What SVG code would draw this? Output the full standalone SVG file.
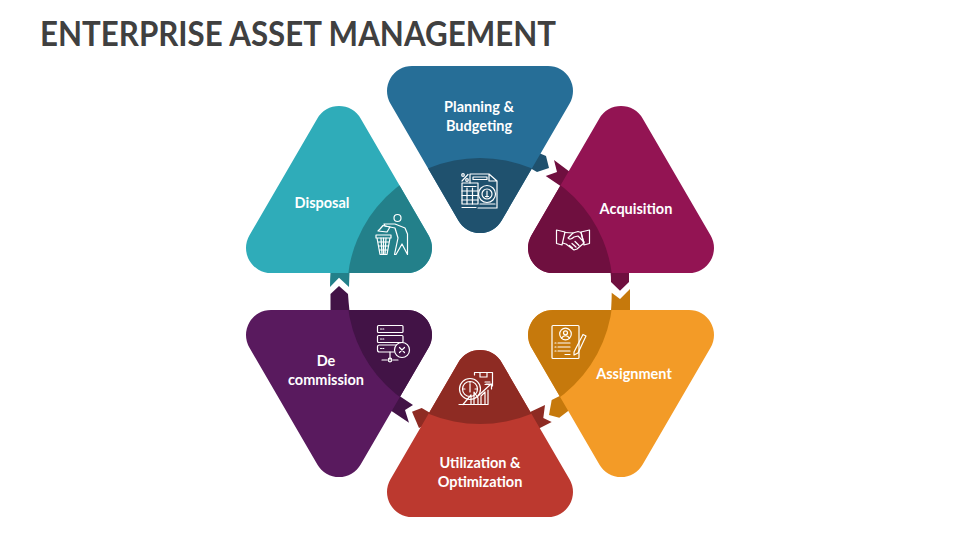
<svg xmlns="http://www.w3.org/2000/svg" width="960" height="540" viewBox="0 0 960 540">
<style>
.lbl{font-family:Lato,"Open Sans","Liberation Sans",sans-serif;font-size:14.500px;font-weight:700;fill:#fff;text-anchor:middle}
.title{font-family:Lato,"Open Sans","Liberation Sans",sans-serif;font-size:34px;font-weight:700;fill:#404040}
.ic{fill:none;stroke:#fff;stroke-width:1.2;stroke-linejoin:round;stroke-linecap:round}
</style>
<defs>
<path id="down" d="M25 0H161A25 25 0 0 1 182.650 37.500L114.650 154.500A25 25 0 0 1 71.350 154.500L3.350 37.500A25 25 0 0 1 25 0Z"/>
<path id="up" d="M25 166H161A25 25 0 0 0 182.650 128.500L114.650 11.500A25 25 0 0 0 71.350 11.500L3.350 128.500A25 25 0 0 0 25 166Z"/>
<clipPath id="ring"><circle cx="480" cy="291" r="133"/></clipPath>
</defs>
<rect width="960" height="540" fill="#fff"/>
<text class="title" x="40" y="46" textLength="516" lengthAdjust="spacingAndGlyphs">ENTERPRISE ASSET MANAGEMENT</text>

<g id="connectors">
<polygon fill="#1F516E" points="530,168 539,153 546,156 549,168 537,172"/>
<polygon fill="#6F0F3F" points="570,172 554,160 557,172 545.700,176 562,187"/>
<path fill="#6F0F3F" d="M610.500 272H629V282L620 290.700L611 282Q611 276 610.500 272Z"/>
<path fill="#C6790C" d="M611.700 292.700L620 299L630 289V311H611Q611.700 300 611.700 292.700Z"/>
<polygon fill="#C6790C" points="561.700,395 551.700,400 549,415 559.300,417.700 572,408"/>
<polygon fill="#8E2B23" points="528,413 545,405 543.300,418 551.700,422 538,429"/>
<polygon fill="#8E2B23" points="432,414 421.700,408 412,411.700 419,428 428,424"/>
<polygon fill="#421346" points="398,395 413,405 405,410 409,422.700 390,410"/>
<path fill="#421346" d="M330.500 311V294L339 286L348 294Q348.500 302 349.500 311Z"/>
<path fill="#23808A" d="M349.500 272H330.500Q330 279 330 287L339 277.700L349 287Z"/>
</g>

<g id="node-planning">
<use href="#down" x="387" y="66" fill="#266E97"/>
<g clip-path="url(#ring)"><use href="#down" x="387" y="66" fill="#1F516E"/></g>
<text class="lbl" x="479" y="112">Planning &amp;</text>
<text class="lbl" x="479" y="131">Budgeting</text>
<g class="ic">
<path d="M470 174H489L497 181V208H478M470 174V183M489 174V181H497"/>
<rect x="462" y="183" width="16" height="21"/>
<path d="M464 186.500H476M462 191H478M462 195.500H478M462 200H478M467 188V204M472.500 188V204"/>
<path d="M473 177H487V179.500H473Z"/>
<circle cx="487" cy="194" r="8.500"/><circle cx="487" cy="194" r="5"/>
<path d="M485.500 196.500H488.500M487 191V197"/>
<path d="M480 204H495M462 207.500H476"/>
<path d="M462 181L468 174.500"/><circle cx="463" cy="175" r="1.300"/><circle cx="467" cy="180" r="1.300"/>
</g>
</g>

<g id="node-acquisition">
<use href="#up" x="528" y="107" fill="#931453"/>
<g clip-path="url(#ring)"><use href="#up" x="528" y="107" fill="#6F0F3F"/></g>
<text class="lbl" x="636" y="214">Acquisition</text>
<g class="ic">
<path d="M556.500 230L565 232L562 245L556.500 243.500ZM589.500 230L581 232L584 245L589.500 243.500Z"/>
<path d="M565 232.500L573 233L578 231.500L581 232.500L584 243L577 249L574 250L566 244L562.500 243"/>
<path d="M573 233L568 238Q570 240.500 574 237L578 236L584 242"/>
<path d="M569.500 245.500L572.500 248M572 243.500L576 247M575 241.500L579 245.500"/>
</g>
</g>

<g id="node-assignment">
<use href="#down" x="528" y="310" fill="#F39B27"/>
<g clip-path="url(#ring)"><use href="#down" x="528" y="310" fill="#C6790C"/></g>
<text class="lbl" x="634" y="379">Assignment</text>
<g class="ic">
<rect x="552" y="325.500" width="27" height="33" rx="1"/>
<circle cx="565.500" cy="334" r="5.800"/><circle cx="565.500" cy="332.800" r="2"/>
<path d="M561.500 338Q565.500 333.500 569.500 338"/>
<path d="M558 343H570M558 347H570M558 351H570M565 354.500H570"/>
<path d="M555 343H556M555 347H556M555 351H556"/>
<path d="M574 352L583 334.500L586 336L578 353L574 355Z"/>
</g>
</g>

<g id="node-utilization">
<use href="#up" x="387" y="351" fill="#BC392F"/>
<g clip-path="url(#ring)"><use href="#up" x="387" y="351" fill="#8E2B23"/></g>
<text class="lbl" x="480" y="468">Utilization &amp;</text>
<text class="lbl" x="480" y="487">Optimization</text>
<g class="ic">
<path d="M474.500 375V372.500H492.500V386"/>
<path d="M480 372.500V377H487V372.500M485 382H490M485 384.500H490"/>
<circle cx="470" cy="389" r="10.500"/><circle cx="470" cy="389" r="7.500"/>
<path d="M470 384V392M463 389H465M475 389H477M470 381.500V383"/>
<path d="M463 404.500L471 395V404.500M474 404.500V392L478 398V404.500M481 404.500V396L485 392V404.500M488 404.500V390M459 404.500H488"/>
<path d="M478 396L491 384M486 384H491.500V389"/>
</g>
</g>

<g id="node-decommission">
<use href="#down" x="246" y="310" fill="#591A5E"/>
<g clip-path="url(#ring)"><use href="#down" x="246" y="310" fill="#421346"/></g>
<text class="lbl" x="326" y="366">De</text>
<text class="lbl" x="326" y="385">commission</text>
<g class="ic">
<rect x="377.500" y="325.500" width="25.500" height="7" rx="1"/>
<rect x="377.500" y="335.500" width="25.500" height="7" rx="1"/>
<path d="M394 352H379.500Q377.500 352 377.500 350V346.500Q377.500 345 379.500 345H396"/>
<circle cx="402" cy="350" r="7.500"/>
<path d="M399.500 347.500L404.500 352.500M404.500 347.500L399.500 352.500"/>
<path d="M390 352V360M382 360H387M393 360H398"/><circle cx="390" cy="360" r="1.800"/>
<path d="M380.500 329H385M380.500 339H385M380.500 348.500H385" stroke-dasharray="1 1.300"/>
</g>
</g>

<g id="node-disposal">
<use href="#up" x="246" y="107" fill="#2FACB9"/>
<g clip-path="url(#ring)"><use href="#up" x="246" y="107" fill="#23808A"/></g>
<text class="lbl" x="322" y="208">Disposal</text>
<g class="ic">
<circle cx="397.500" cy="218" r="3.500"/>
<path d="M384 224L395 224L405 228L407.500 234L407.500 254.500L402 244L396 254.500H394.500L398 238L395 228L385 226Z"/>
<path d="M380 229L383 225.500L390 227L387 232L378 231Z"/>
<path d="M376 235H391V238H376ZM377 238L380 254.500H387L390 238"/>
<path d="M378.500 242H388.500M379 246H388M379.500 250H387.500M381 238L382 254.500M383.500 238V254.500M386 238L385 254.500"/>
</g>
</g>
</svg>
